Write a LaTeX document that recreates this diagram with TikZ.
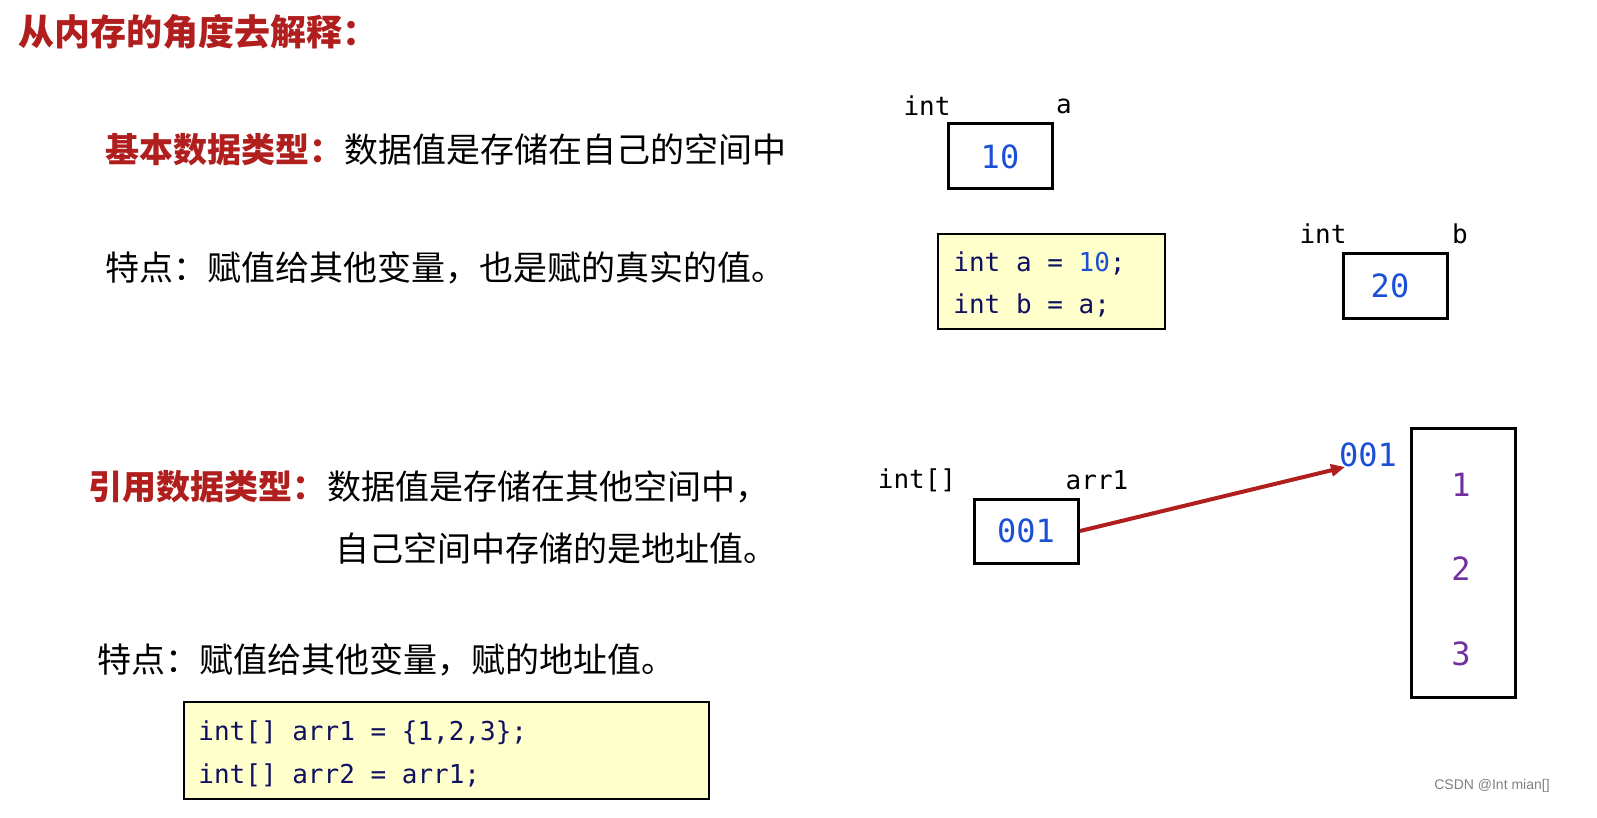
\documentclass[tikz,border=0pt]{standalone}
\usepackage{fontspec}
\setmainfont{Liberation Sans}
\newfontfamily\cjk{Noto Sans CJK SC}
\setmonofont{DejaVu Sans Mono}
\definecolor{dred}{HTML}{B01E1E}
\definecolor{nblue}{HTML}{1A4FD6}
\definecolor{navy}{HTML}{101060}
\definecolor{purp}{HTML}{7030A0}
\definecolor{ylw}{HTML}{FFFFCC}
\usetikzlibrary{arrows.meta}
\begin{document}
\begin{tikzpicture}[x=0.5pt,y=-0.5pt,
  txt/.style={anchor=west,inner sep=0pt,font=\cjk\fontsize{17}{20}\selectfont},
  hd/.style={anchor=west,inner sep=0pt,font=\cjk\bfseries\fontsize{17}{20}\selectfont,text=dred},
  cell/.style={draw,line width=1.5pt,inner sep=0pt},
  num/.style={font=\ttfamily\fontsize{16}{18}\selectfont,text=nblue},
  lbl/.style={font=\ttfamily\fontsize{13}{15}\selectfont},
  code/.style={draw,fill=ylw,line width=0.8pt},
  cl/.style={anchor=west,inner sep=0pt,font=\ttfamily\fontsize{13}{15}\selectfont,text=navy}]
\useasboundingbox (0,0) rectangle (1597,818);
\node[anchor=west,inner sep=0pt,font=\cjk\bfseries\fontsize{18}{22}\selectfont,text=dred] (title) at (18,32) {从内存的角度去解释：};
\node[hd] (h1) at (105,150) {基本数据类型：};
\node[txt] (t1) at (h1.east) {数据值是存储在自己的空间中};
\node[txt] (t2) at (105,268) {特点：赋值给其他变量，也是赋的真实的值。};
% a
\draw[cell] (948,124) rectangle (1052,189);
\node[num] (va) at (1000,157) {10};
\node[lbl] (ia) at (927,106) {int};
\node[lbl] (na) at (1064,106) {a};
\draw[code] (938,234) rectangle (1165,329);
\node[cl] (c1) at (953,263) {int a = {\color{nblue}10};};
\node[cl] (c2) at (953,305) {int b = a;};
% b
\draw[cell] (1343,254) rectangle (1447,319);
\node[num] (vb) at (1390,286) {20};
\node[lbl] (ib) at (1323,234) {int};
\node[lbl] (nb) at (1460,234) {b};
% reference
\node[hd] (h2) at (88,487) {引用数据类型：};
\node[txt] (t3) at (h2.east) {数据值是存储在其他空间中，};
\node[txt] (t4) at (335,548) {自己空间中存储的是地址值。};
\node[txt] (t5) at (97,660) {特点：赋值给其他变量，赋的地址值。};
\draw[code] (184,702) rectangle (709,799);
\node[cl] (c3) at (198,733) {int[] arr1 = \{1,2,3\};};
\node[cl] (c4) at (198,775) {int[] arr2 = arr1;};
\node[cell,minimum width=52pt,minimum height=32pt] (arr1) at (1026.5,531) {};
\node[num] (v1) at (1026,531) {001};
\node[lbl] (iarr) at (917,480) {int[]};
\node[lbl] (narr) at (1097,480) {arr1};
\coordinate (tip) at (1345,467);
\draw[dred,line width=2pt,-{Triangle[length=7pt,width=6pt]}] (arr1.east) -- (tip);
\node[num] (addr) at (1368,455) {001};
\draw[cell] (1411,429) rectangle (1515,697);
\node[num,text=purp] (e1) at (1461,485) {1};
\node[num,text=purp] (e2) at (1461,569) {2};
\node[num,text=purp] (e3) at (1461,654) {3};
\node[font=\fontsize{7}{8}\selectfont,text=gray] (wm) at (1492,786) {CSDN @Int mian[]};
\end{tikzpicture}
\end{document}
